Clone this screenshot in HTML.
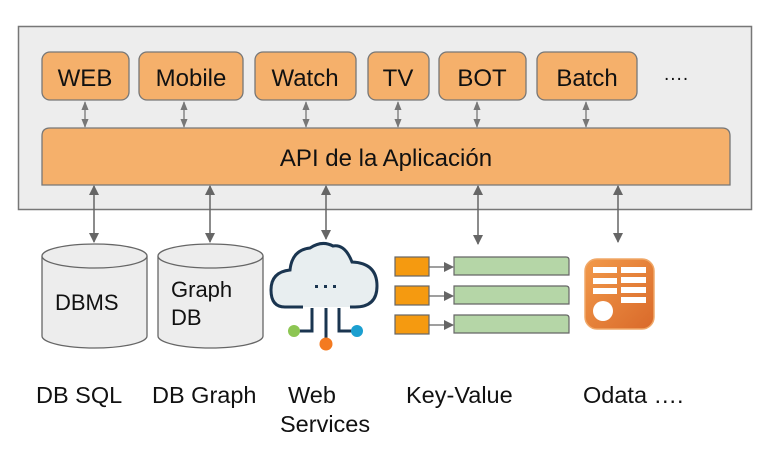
<!DOCTYPE html>
<html><head><meta charset="utf-8"><style>
html,body{margin:0;padding:0;background:#fff;}
svg{display:block;font-family:"Liberation Sans",Arial,sans-serif;}
</style></head><body>
<svg width="763" height="466" viewBox="0 0 763 466" xmlns="http://www.w3.org/2000/svg">
<defs>
<marker id="ah2" viewBox="0 0 10 10" refX="9" refY="5" markerWidth="10" markerHeight="10" markerUnits="userSpaceOnUse" orient="auto-start-reverse"><path d="M0,0 L10,5 L0,10 z" fill="#666"/></marker>
<marker id="sh" viewBox="0 0 10 10" refX="9" refY="5" markerWidth="9" markerHeight="9" markerUnits="userSpaceOnUse" orient="auto-start-reverse"><path d="M0,1 L10,5 L0,9 z" fill="#777"/></marker>
<linearGradient id="og" x1="0" y1="0" x2="1" y2="1"><stop offset="0" stop-color="#f29a4a"/><stop offset="1" stop-color="#d9692a"/></linearGradient>
</defs>
<rect x="18.5" y="26.5" width="733" height="183" fill="#ededed" stroke="#777" stroke-width="1.5"/>
<g fill="#f5b06b" stroke="#777" stroke-width="1.3">
<rect x="42" y="52" width="87" height="48" rx="8"/>
<rect x="139" y="52" width="104" height="48" rx="8"/>
<rect x="255" y="52" width="101" height="48" rx="8"/>
<rect x="368" y="52" width="61" height="48" rx="8"/>
<rect x="439" y="52" width="87" height="48" rx="8"/>
<rect x="537" y="52" width="100" height="48" rx="8"/>
<path d="M42,185 L42,136 Q42,128 50,128 L722,128 Q730,128 730,136 L730,185 Z"/>
</g>
<g font-size="24" fill="#111" text-anchor="middle">
<text x="85" y="86">WEB</text>
<text x="191" y="86">Mobile</text>
<text x="305" y="86">Watch</text>
<text x="398" y="86">TV</text>
<text x="482" y="86">BOT</text>
<text x="587" y="86">Batch</text>
<text x="386" y="166">API de la Aplicación</text>
</g>
<text x="664" y="80" font-size="19" fill="#111" letter-spacing="1">....</text>
<g stroke="#777" stroke-width="1.3" marker-start="url(#sh)" marker-end="url(#sh)">
<line x1="85" y1="102" x2="85" y2="127"/>
<line x1="184" y1="102" x2="184" y2="127"/>
<line x1="306" y1="102" x2="306" y2="127"/>
<line x1="398" y1="102" x2="398" y2="127"/>
<line x1="477" y1="102" x2="477" y2="127"/>
<line x1="586" y1="102" x2="586" y2="127"/>
</g>
<g stroke="#666" stroke-width="1.5" marker-start="url(#ah2)" marker-end="url(#ah2)">
<line x1="94" y1="186" x2="94" y2="242"/>
<line x1="210" y1="186" x2="210" y2="242"/>
<line x1="326" y1="186" x2="326" y2="239"/>
<line x1="478" y1="186" x2="478" y2="244"/>
<line x1="618" y1="186" x2="618" y2="242"/>
</g>
<g fill="#ededed" stroke="#666" stroke-width="1.3">
<path d="M42,256 L42,336 A52.5,12 0 0 0 147,336 L147,256"/>
<ellipse cx="94.5" cy="256" rx="52.5" ry="12"/>
<path d="M158,256 L158,336 A52.5,12 0 0 0 263,336 L263,256"/>
<ellipse cx="210.5" cy="256" rx="52.5" ry="12"/>
</g>
<g font-size="22" fill="#111">
<text x="55" y="310">DBMS</text>
<text x="171" y="297">Graph</text>
<text x="171" y="325">DB</text>
</g>
<path d="M303,307 L285,307 Q271,307 271,290 Q271,272 290,270 Q292,250 310,248 Q322,240 333,246 Q345,244 352,262 Q377,263 377,286 Q377,307 355,307 L350,307" fill="#e8eef0" stroke="#1a3550" stroke-width="3"/>
<g stroke="#1a3550" stroke-width="3" fill="none">
<path d="M312,308 L312,331 L296,331"/>
<line x1="326" y1="308" x2="326" y2="342"/>
<path d="M339,308 L339,331 L355,331"/>
</g>
<g fill="#1a3550"><rect x="315" y="285" width="3" height="3"/><rect x="324" y="285" width="3" height="3"/><rect x="333" y="285" width="3" height="3"/></g>
<circle cx="294" cy="331" r="6" fill="#8dc653"/>
<circle cx="326" cy="344" r="6.5" fill="#f47a20"/>
<circle cx="357" cy="331" r="6" fill="#1b9fd0"/>
<g stroke="#666" stroke-width="1.2">
<rect x="395" y="257" width="34" height="19" fill="#f59a10"/>
<rect x="395" y="286" width="34" height="19" fill="#f59a10"/>
<rect x="395" y="315" width="34" height="19" fill="#f59a10"/>
<path d="M454,257 L566,257 Q569,257 569,260 L569,275 L454,275 Z" fill="#b5d6a7"/>
<path d="M454,286 L566,286 Q569,286 569,289 L569,304 L454,304 Z" fill="#b5d6a7"/>
<path d="M454,315 L566,315 Q569,315 569,318 L569,333 L454,333 Z" fill="#b5d6a7"/>
</g>
<g stroke="#666" stroke-width="1.3" marker-end="url(#ah2)">
<line x1="429" y1="267" x2="453" y2="267"/>
<line x1="429" y1="296" x2="453" y2="296"/>
<line x1="429" y1="325" x2="453" y2="325"/>
</g>
<rect x="585" y="259" width="69" height="70" rx="12" fill="url(#og)" stroke="#f0a868" stroke-width="1.5"/>
<g fill="#fff">
<rect x="593" y="267" width="24" height="6"/><rect x="593" y="278" width="24" height="6"/><rect x="593" y="288" width="24" height="6"/>
<rect x="621" y="267" width="25" height="6"/><rect x="621" y="277" width="25" height="6"/><rect x="621" y="287" width="25" height="6"/><rect x="621" y="297" width="25" height="6"/>
<circle cx="603" cy="311" r="10"/>
</g>
<g font-size="23.5" fill="#111">
<text x="36" y="403">DB SQL</text>
<text x="152" y="403">DB Graph</text>
<text x="288" y="403">Web</text>
<text x="280" y="432">Services</text>
<text x="406" y="403">Key-Value</text>
<text x="583" y="403">Odata ….</text>
</g>
</svg>
</body></html>
